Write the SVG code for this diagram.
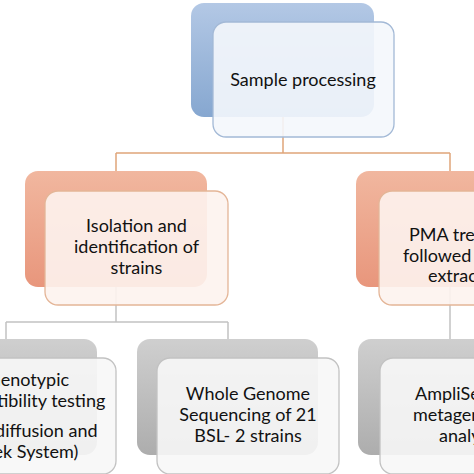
<svg xmlns="http://www.w3.org/2000/svg" width="474" height="474" viewBox="0 0 474 474">
<defs>
<linearGradient id="gBlue" x1="0" y1="0" x2="0" y2="1"><stop offset="0" stop-color="#b3c8e5"/><stop offset="1" stop-color="#86a7d0"/></linearGradient>
<linearGradient id="gSal" x1="0" y1="0" x2="0" y2="1"><stop offset="0" stop-color="#f1b79f"/><stop offset="1" stop-color="#e8967c"/></linearGradient>
<linearGradient id="gGrey" x1="0" y1="0" x2="0" y2="1"><stop offset="0" stop-color="#cfcfcf"/><stop offset="1" stop-color="#adadad"/></linearGradient>
</defs>
<style>
.back{stroke:none}
.front{stroke-width:1.3}
.fb{fill:#f4f7fc;fill-opacity:0.9;stroke:#a3b9d6}
.fs{fill:#fdf3ee;fill-opacity:0.9;stroke:#e4b597}
.fg{fill:#f7f7f7;fill-opacity:0.9;stroke:#c2c2c2}
text{font-family:Lato,"Liberation Sans",sans-serif;font-size:18px;fill:#111111;text-anchor:middle}
text.s{text-anchor:start}
.c1{stroke:#e0a57a;stroke-width:1.5;fill:none}
.c2{stroke:#c2c2c2;stroke-width:1.5;fill:none}
</style>
<rect width="474" height="474" fill="#ffffff"/>
<g id="connectors">
<path class="c1" d="M283 117V153M116 153H450M116 153V171M450 153V171"/>
<path class="c2" d="M116 287V322M6 322H228M6 322V339M228 322V339"/>
<path class="c2" d="M450 287V339"/>
</g>
<g id="n-sample">
<rect class="back" x="191" y="3" width="183" height="114" rx="13" fill="url(#gBlue)"/>
<rect class="front fb" x="213" y="22" width="181" height="115" rx="13"/>
<text x="303" y="86">Sample processing</text>
</g>
<g id="n-isolation">
<rect class="back" x="25" y="171" width="182" height="116" rx="13" fill="url(#gSal)"/>
<rect class="front fs" x="45" y="191" width="183" height="114" rx="13"/>
<text x="136.5" y="232">Isolation and</text>
<text x="136.5" y="253">identification of</text>
<text x="136.5" y="274">strains</text>
</g>
<g id="n-pma">
<rect class="back" x="356" y="171" width="188" height="116" rx="13" fill="url(#gSal)"/>
<rect class="front fs" x="379" y="191" width="183" height="114" rx="13"/>
<text class="s" x="409" y="241">PMA treatment</text>
<text class="s" x="403" y="262">followed by DNA</text>
<text class="s" x="428" y="282">extraction</text>
</g>
<g id="n-phenotypic">
<rect class="back" x="-85" y="339" width="182" height="116" rx="13" fill="url(#gGrey)"/>
<rect class="front fg" x="-67" y="358" width="183" height="116" rx="13"/>
<text x="24.5" y="386">Phenotypic</text>
<text x="24.5" y="407">susceptibility testing</text>
<text x="24.5" y="437">(Disc diffusion and</text>
<text x="24.5" y="458">Vitek System)</text>
</g>
<g id="n-wgs">
<rect class="back" x="137" y="339" width="181" height="116" rx="13" fill="url(#gGrey)"/>
<rect class="front fg" x="157" y="358" width="182" height="116" rx="13"/>
<text x="248" y="400">Whole Genome</text>
<text x="248" y="421">Sequencing of 21</text>
<text x="248" y="442">BSL- 2 strains</text>
</g>
<g id="n-ampliseq">
<rect class="back" x="358" y="339" width="184" height="116" rx="13" fill="url(#gGrey)"/>
<rect class="front fg" x="380" y="358" width="182" height="116" rx="13"/>
<text class="s" x="415" y="400">AmpliSeq</text>
<text class="s" x="413" y="421">metagenomic</text>
<text class="s" x="439" y="442">analysis</text>
</g>
</svg>
